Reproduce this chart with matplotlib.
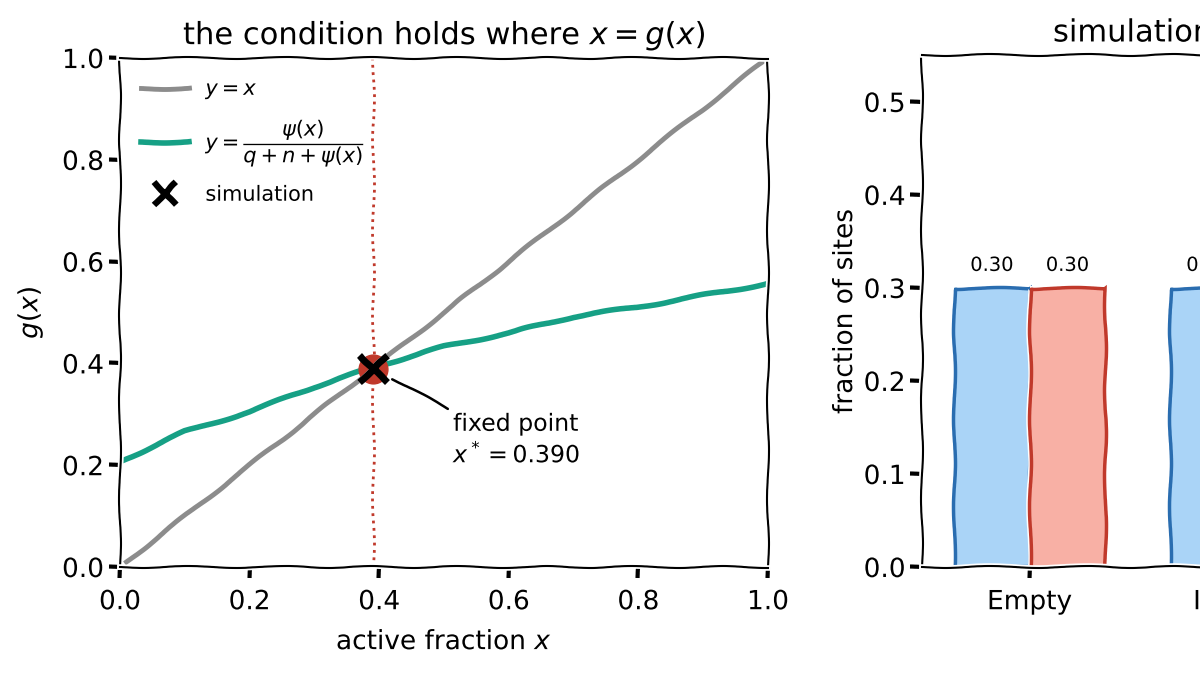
import numpy as np
import matplotlib
matplotlib.use("Agg")
import matplotlib.pyplot as plt
from matplotlib.lines import Line2D

# values
x_vals = [0.0, 0.1, 0.2, 0.3, 0.4, 0.5, 0.6, 0.7, 0.8, 0.9, 1.0]
g_vals = [0.207, 0.266, 0.305, 0.354, 0.396, 0.433, 0.46, 0.492, 0.511, 0.534, 0.557]
diag_x = [0.01, 1.0]
diag_y = [0.01, 1.0]
x_star = 0.390

categories = ["Empty", "Inactive", "Active"]
sim_frac = [0.30, 0.30, 0.40]
theory_frac = [0.30, 0.31, 0.39]

plt.xkcd(scale=1, length=100, randomness=2)
plt.rcParams['font.family'] = ['DejaVu Sans']

fig = plt.figure(figsize=(12, 6.75), dpi=100)
ax1 = fig.add_axes([0.1, 0.16, 0.54, 0.754])
ax2 = fig.add_axes([0.768, 0.16, 0.54, 0.758])

# left panel: fixed point condition
ax1.plot(diag_x, diag_y, color="#8c8c8c", lw=3.5)
ax1.plot(x_vals, g_vals, color="#16a085", lw=4)
ax1.axvline(x_star, color="#c0392b", ls=":", lw=2)
ax1.scatter([x_star], [x_star], s=430, color="#c0392b", zorder=5)
ax1.plot([x_star], [x_star], marker="x", color="black", ms=20, mew=5, zorder=6)
ax1.annotate("fixed point\n$x^*=0.390$", xy=(0.417, 0.373), xytext=(0.514, 0.305),
             ha="left", va="top", fontsize=17,
             arrowprops=dict(arrowstyle="-", color="black", lw=1.8, relpos=(0, 1)))
ax1.set_xlim(0, 1)
ax1.set_ylim(0, 1)
ax1.set_xticks([0, 0.2, 0.4, 0.6, 0.8, 1.0])
ax1.set_yticks([0, 0.2, 0.4, 0.6, 0.8, 1.0])
ax1.tick_params(labelsize=19)
ax1.tick_params(axis="x", pad=8)
ax1.set_xlabel("active fraction $x$", fontsize=19, labelpad=10)
ax1.set_ylabel("$g(x)$", fontsize=19, labelpad=12)
ax1.set_title("the condition holds where $x = g(x)$", fontsize=22, pad=10)

handles = [
    Line2D([], [], color="#8c8c8c", lw=3.5),
    Line2D([], [], color="#16a085", lw=4),
    Line2D([], [], ls="none", marker="x", color="black", ms=16, mew=4.5),
]
labels = ["$y=x$", r"$y=\dfrac{\psi(x)}{q+n+\psi(x)}$", "simulation"]
ax1.legend(handles, labels, loc="upper left", frameon=False, fontsize=15,
           handlelength=2.3, labelspacing=0.8, borderaxespad=0.6)

# right panel: simulation vs theory
pos = np.arange(len(categories))
w = 0.35
b1 = ax2.bar(pos - w / 2, sim_frac, w, color="#aad4f7", edgecolor="#2a6db0",
             lw=2.5, label="simulation")
b2 = ax2.bar(pos + w / 2, theory_frac, w, color="#f8b0a5", edgecolor="#c0392b",
             lw=2.5, label="theory")
for bars in (b1, b2):
    for b in bars:
        ax2.text(b.get_x() + b.get_width() / 2, b.get_height() + 0.014,
                 f"{b.get_height():.2f}", ha="center", va="bottom", fontsize=14)
ax2.set_xlim(-0.5, 2.5)
ax2.set_ylim(0, 0.55)
ax2.set_xticks(pos)
ax2.set_xticklabels(categories)
ax2.set_yticks([0, 0.1, 0.2, 0.3, 0.4, 0.5])
ax2.tick_params(labelsize=19)
ax2.tick_params(axis="x", pad=8)
ax2.set_ylabel("fraction of sites", fontsize=19)
ax2.set_title("simulation vs. mean-field", fontsize=22, pad=10)
ax2.legend(loc="upper right", frameon=False, fontsize=15)

fig.savefig("out.png", dpi=100)
